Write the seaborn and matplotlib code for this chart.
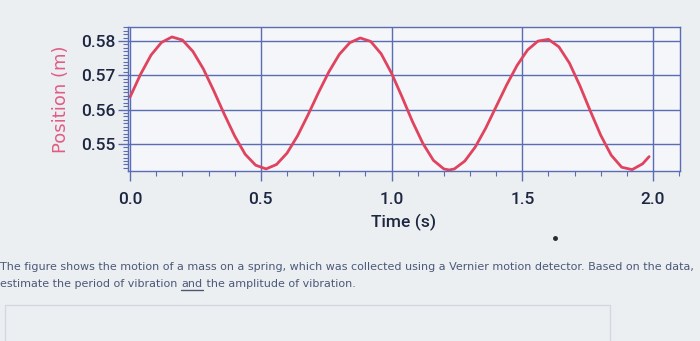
import matplotlib
matplotlib.use("Agg")
import matplotlib.pyplot as plt
import seaborn as sns
import pandas as pd
from matplotlib.ticker import MultipleLocator, FixedLocator
from matplotlib.lines import Line2D
from matplotlib.patches import Rectangle

# ---- data ----
time_s = [0.00, 0.04, 0.08, 0.12, 0.16, 0.20, 0.24, 0.28, 0.32, 0.36,
          0.40, 0.44, 0.48, 0.52, 0.56, 0.60, 0.64, 0.68, 0.72, 0.76,
          0.80, 0.84, 0.88, 0.92, 0.96, 1.00, 1.04, 1.08, 1.12, 1.16,
          1.20, 1.22, 1.24, 1.28, 1.32, 1.36, 1.40, 1.44, 1.48, 1.52,
          1.56, 1.60, 1.64, 1.68, 1.72, 1.76, 1.80, 1.84, 1.88, 1.92,
          1.96, 1.985]
position_m = [0.5637, 0.5703, 0.5759, 0.5796, 0.5812, 0.5803, 0.5770, 0.5719, 0.5655, 0.5587,
              0.5523, 0.5470, 0.5438, 0.5427, 0.5440, 0.5473, 0.5523, 0.5584, 0.5649, 0.5710,
              0.5761, 0.5795, 0.5809, 0.5799, 0.5763, 0.5706, 0.5637, 0.5565, 0.5501, 0.5452,
              0.5427, 0.5424, 0.5427, 0.5450, 0.5491, 0.5546, 0.5609, 0.5672, 0.5729, 0.5774,
              0.5800, 0.5805, 0.5783, 0.5736, 0.5670, 0.5596, 0.5525, 0.5467, 0.5432, 0.5425,
              0.5442, 0.5463]
x_ticks = [0.0, 0.5, 1.0, 1.5, 2.0]
x_tick_labels = ["0.0", "0.5", "1.0", "1.5", "2.0"]
y_ticks = [0.55, 0.56, 0.57, 0.58]
y_tick_labels = ["0.55", "0.56", "0.57", "0.58"]
x_label = "Time (s)"
y_label = "Position (m)"
caption_1 = ("The figure shows the motion of a mass on a spring, which was collected "
             "using a Vernier motion detector. Based on the data,")
caption_2a = "estimate the period of vibration "
caption_2b = "and"
caption_2c = " the amplitude of vibration."

df = pd.DataFrame({"time": time_s, "position": position_m})

sns.set_theme(style="white")
plt.rcParams["font.family"] = ["DejaVu Sans"]
narrow = ["Roboto", "DejaVu Sans"]

W, H = 700, 341
fig = plt.figure(figsize=(7.0, 3.41), dpi=100, facecolor="#eceff2")
ax = fig.add_axes([128 / W, 1 - 171 / H, (680 - 128) / W, (171 - 27) / H])
ax.set_facecolor("#f4f6f9")

grid_c = "#5a6cb4"
line_c = "#e0435e"

sns.lineplot(data=df, x="time", y="position", ax=ax, color=line_c, linewidth=2.0)

ax.set_xlim(-0.008, 2.103)
ax.set_ylim(0.5421, 0.5841)

ax.xaxis.set_major_locator(FixedLocator(x_ticks))
ax.yaxis.set_major_locator(FixedLocator(y_ticks))
ax.xaxis.set_minor_locator(MultipleLocator(0.1))
ax.yaxis.set_minor_locator(MultipleLocator(0.001))
ax.set_xticklabels(x_tick_labels)
ax.set_yticklabels(y_tick_labels)

ax.grid(True, which="major", color=grid_c, linewidth=1.0)
for s in ax.spines.values():
    s.set_color(grid_c)
    s.set_linewidth(1.0)

ax.tick_params(axis="both", which="both", bottom=True, left=True, top=False, right=False)
ax.tick_params(axis="both", which="major", direction="out", length=7, width=1,
               color=grid_c, labelcolor="#1e2742", labelsize=12.5, pad=2)
ax.tick_params(axis="both", which="minor", direction="out", length=3.5, width=0.8,
               color=grid_c)
ax.tick_params(axis="x", which="major", pad=8)
for lab in ax.get_xticklabels() + ax.get_yticklabels():
    lab.set_family(narrow)
    lab.set_fontweight("medium")

ax.set_xlabel(x_label, family=narrow, fontsize=12.5, color="#1e2742", labelpad=5,
              fontweight="medium")
ax.set_ylabel(y_label, fontsize=13, color="#e25c84")
ax.yaxis.set_label_coords((70 - 128) / 552, 0.5)

# caption below the chart
cap_c = "#4b5877"
fs = 8.05
fig.text(0.5 / W, 1 - 270 / H, caption_1, fontsize=fs, color=cap_c, va="baseline", ha="left")
fig.canvas.draw()
rend = fig.canvas.get_renderer()
y2 = 1 - 287 / H
t1 = fig.text(0.5 / W, y2, caption_2a, fontsize=fs, color=cap_c, va="baseline", ha="left")
bb = t1.get_window_extent(rend)
t2 = fig.text(bb.x1 / W, y2, caption_2b, fontsize=fs, color=cap_c, va="baseline", ha="left")
bb2 = t2.get_window_extent(rend)
fig.text(bb2.x1 / W, y2, caption_2c, fontsize=fs, color=cap_c, va="baseline", ha="left")
fig.add_artist(Line2D([bb2.x0 / W, bb2.x1 / W], [y2 - 2.5 / H, y2 - 2.5 / H],
                      transform=fig.transFigure, color=cap_c, linewidth=1.0))

# faint answer box
fig.add_artist(Rectangle((5 / W, -0.05), 605 / W, 1 - 305 / H + 0.05,
                         transform=fig.transFigure, facecolor="none",
                         edgecolor="#d3d8de", linewidth=1.0))
fig.add_artist(Line2D([555 / W], [1 - 238 / H], marker="o", markersize=2.5,
                      color="#2a2a2a", transform=fig.transFigure))

fig.savefig("out.png", dpi=100, facecolor=fig.get_facecolor())
